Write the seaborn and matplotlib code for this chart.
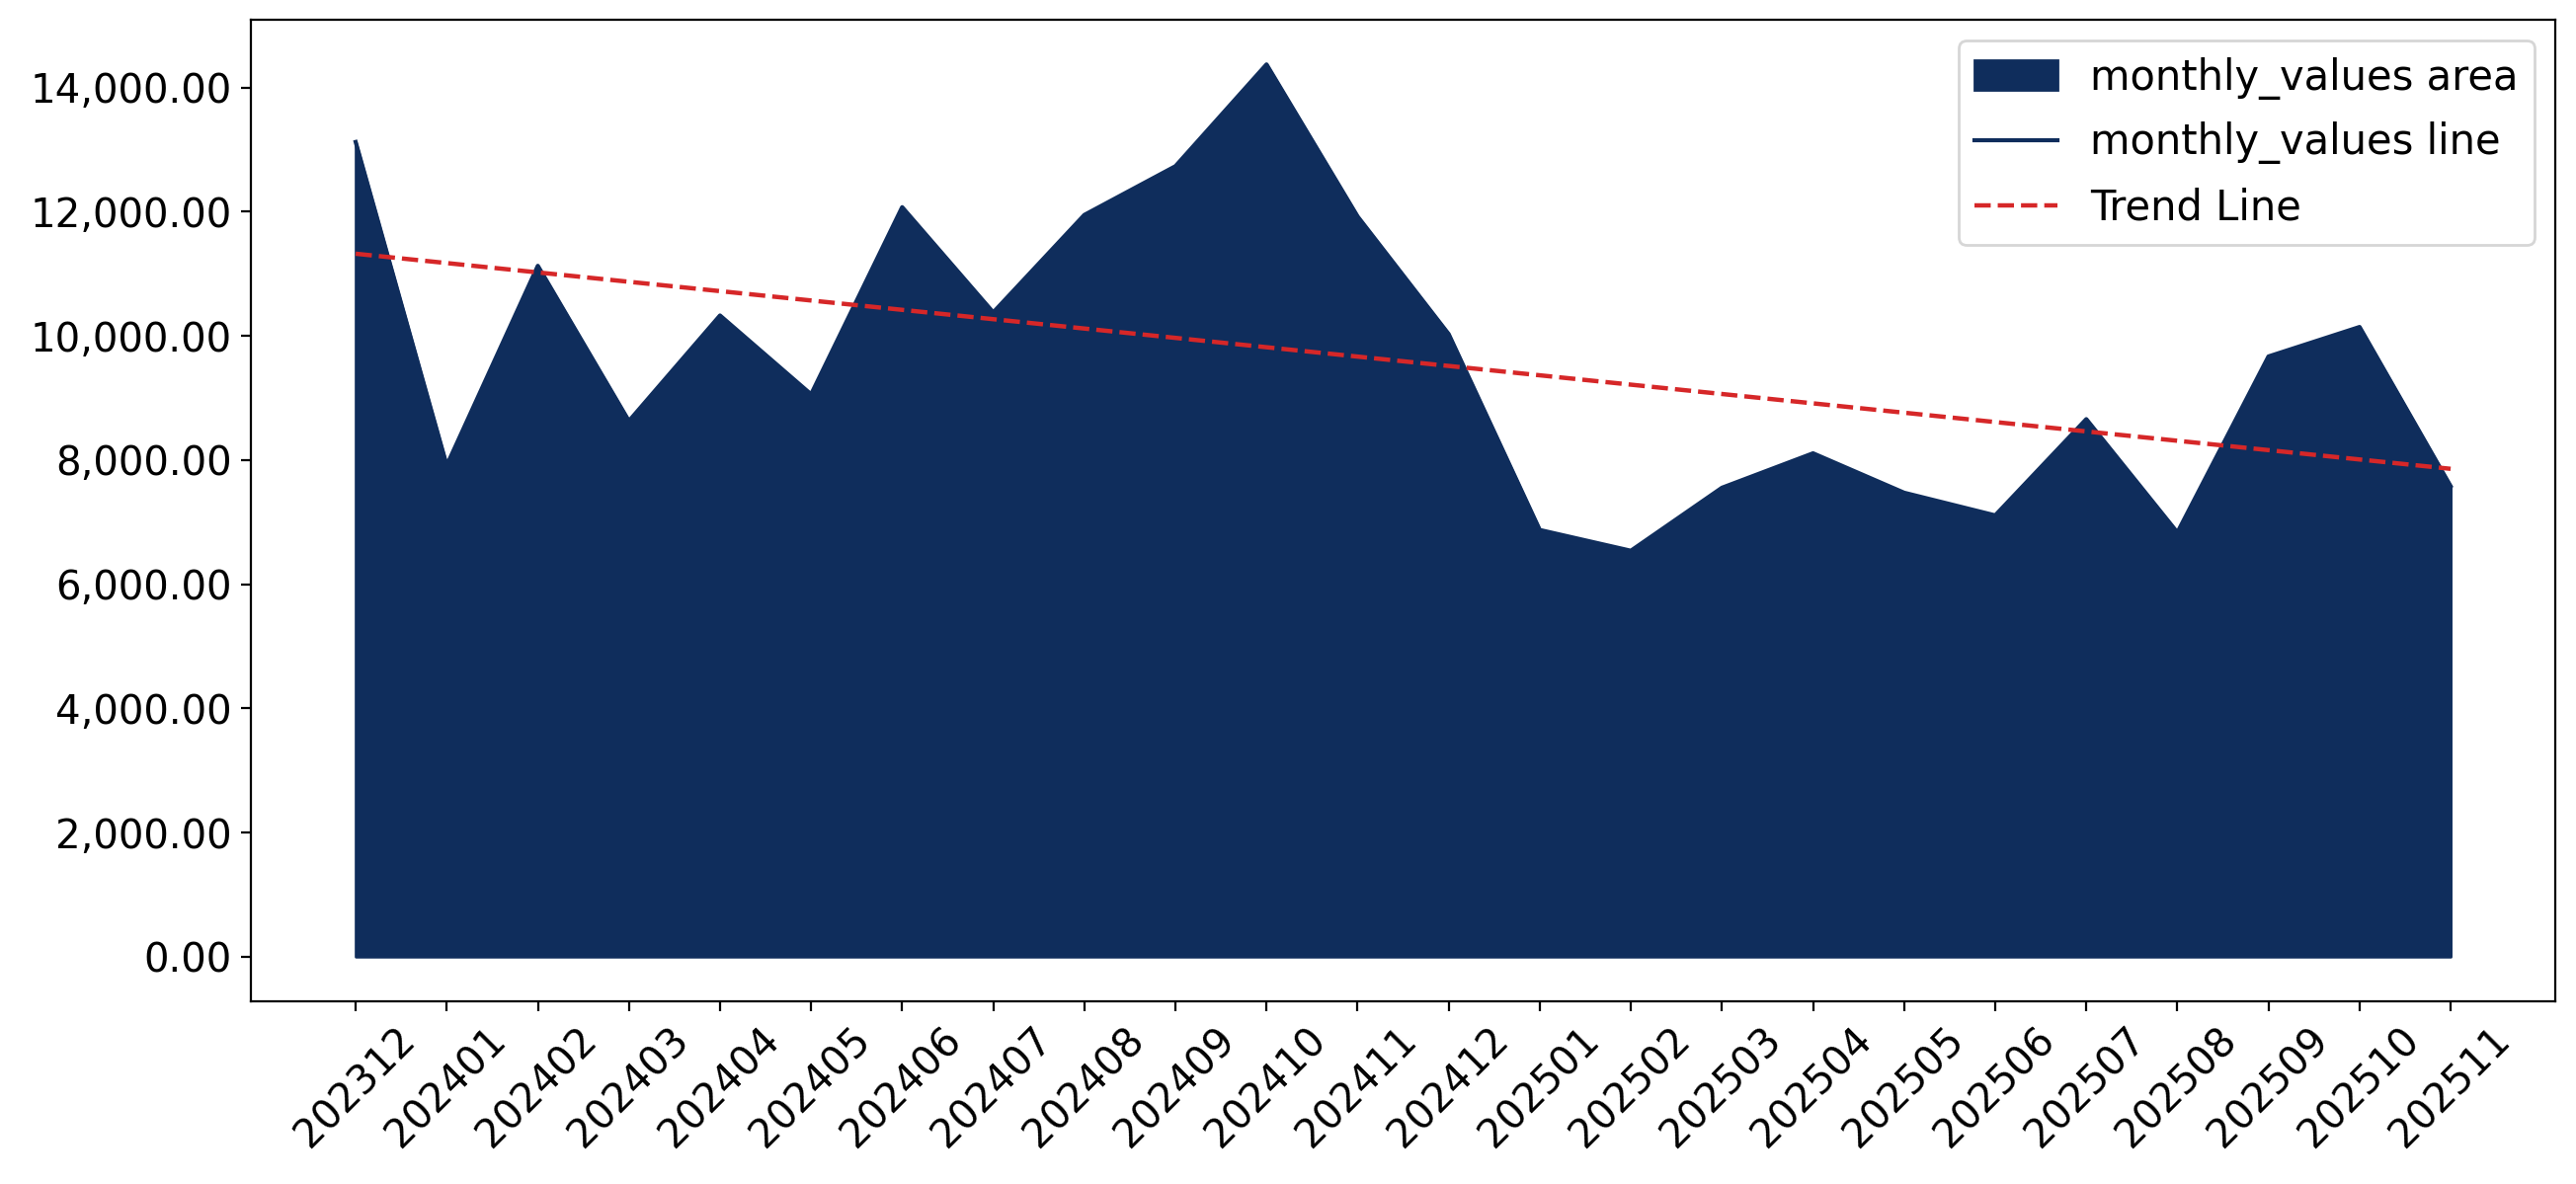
import numpy as np
import pandas as pd
import matplotlib
matplotlib.use("Agg")
import matplotlib.pyplot as plt
import seaborn as sns
from matplotlib.ticker import StrMethodFormatter

months = ["202312", "202401", "202402", "202403", "202404", "202405", "202406",
          "202407", "202408", "202409", "202410", "202411", "202412", "202501",
          "202502", "202503", "202504", "202505", "202506", "202507", "202508",
          "202509", "202510", "202511"]
monthly_values = [13125, 7915, 11130, 8630, 10330, 9060, 12075, 10380, 11950,
                  12735, 14375, 11925, 10030, 6875, 6540, 7555, 8110, 7475,
                  7110, 8660, 6835, 9670, 10145, 7580]

area_color = "#0f2d5c"
trend_color = "#d62728"

df = pd.DataFrame({"idx": np.arange(len(months)), "month": months,
                   "value": monthly_values})
coef = np.polyfit(df["idx"], df["value"], 1)
df["trend"] = np.polyval(coef, df["idx"])

fig = plt.figure(figsize=(13.04, 5.995), dpi=200)
ax = fig.add_axes([0.0974, 0.1543, 0.992 - 0.0974, 0.9833 - 0.1543])

ax.fill_between(df["idx"], df["value"], color=area_color, label="monthly_values area")
sns.lineplot(data=df, x="idx", y="value", ax=ax, color=area_color,
             label="monthly_values line", linewidth=1.5)
sns.lineplot(data=df, x="idx", y="trend", ax=ax, color=trend_color,
             linestyle="--", label="Trend Line", linewidth=1.6)

ax.set_xticks(df["idx"])
ax.set_xticklabels(months, rotation=45, fontsize=14.5)
ax.tick_params(axis="y", labelsize=14.5)
ax.yaxis.set_major_formatter(StrMethodFormatter("{x:,.2f}"))
ax.set_xlabel("")
ax.set_ylabel("")
ax.legend(loc="upper right", fontsize=15.0, labelspacing=0.55)

fig.savefig("out.png", dpi=200)
